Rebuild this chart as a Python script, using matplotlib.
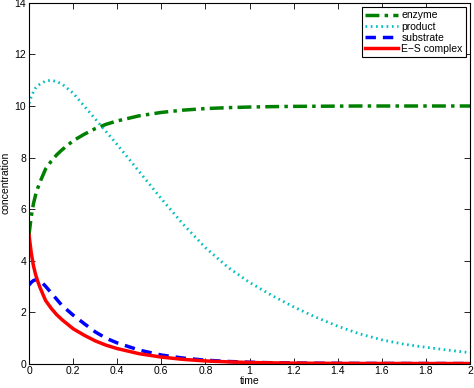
import matplotlib
matplotlib.use("Agg")
from matplotlib import pyplot as plt

plt.rcParams['font.family'] = ['Liberation Sans', 'DejaVu Sans']

# valores
t = [0, 0.01, 0.02, 0.03, 0.04, 0.05, 0.075, 0.1, 0.125, 0.15, 0.2, 0.25, 0.3, 0.35, 0.4,
     0.5, 0.6, 0.7, 0.8, 0.9, 1.0, 1.1, 1.2, 1.3, 1.4, 1.5, 1.6, 1.7, 1.8, 1.9, 2.0]

enzyme = [5.0, 5.7, 6.2, 6.55, 6.82, 7.05, 7.55, 7.85, 8.1, 8.3, 8.65, 8.9, 9.12, 9.29, 9.42,
          9.62, 9.75, 9.84, 9.9, 9.935, 9.96, 9.975, 9.985, 9.99, 9.995, 10.0, 10.0, 10.0, 10.0, 10.0, 10.0]

product = [10.1, 10.35, 10.55, 10.7, 10.78, 10.85, 10.97, 11.0, 10.95, 10.85, 10.5, 10.0, 9.5, 9.0, 8.5,
           7.45, 6.4, 5.4, 4.5, 3.75, 3.15, 2.65, 2.2, 1.8, 1.45, 1.15, 0.92, 0.75, 0.63, 0.52, 0.42]

substrate = [3.05, 3.15, 3.22, 3.25, 3.25, 3.22, 3.0, 2.75, 2.5, 2.25, 1.88, 1.55, 1.23, 0.98, 0.8,
             0.52, 0.33, 0.21, 0.13, 0.08, 0.05, 0.03, 0.02, 0.012, 0.008, 0.005, 0.003, 0.002, 0.001, 0.0, 0.0]

complexo = [5.0, 4.3, 3.8, 3.45, 3.18, 2.95, 2.45, 2.15, 1.9, 1.7, 1.35, 1.1, 0.88, 0.71, 0.58,
            0.38, 0.25, 0.16, 0.1, 0.065, 0.04, 0.025, 0.015, 0.01, 0.005, 0.003, 0.002, 0.001, 0.0, 0.0, 0.0]

fig = plt.figure(figsize=(4.74, 3.88), dpi=100)
ax = fig.add_axes([0.0612, 0.0631, 0.9304, 0.9292])

ax.plot(t, enzyme, color=(0, 0.5, 0), linestyle=(0, (4, 1.5, 1, 1.5)), linewidth=2.5, label="enzyme")
ax.plot(t, product, color=(0, 0.75, 0.75), linestyle=(0, (0.6, 1.3)), linewidth=2, label="product")
ax.plot(t, substrate, color=(0, 0, 1), linestyle=(0, (3, 2)), linewidth=2.5, label="substrate")
ax.plot(t, complexo, color=(1, 0, 0), linestyle="-", linewidth=2.5, label="E\u2212S complex")

ax.set_xlim(0, 2)
ax.set_ylim(0, 14)
ax.set_xticks([0, 0.2, 0.4, 0.6, 0.8, 1, 1.2, 1.4, 1.6, 1.8, 2])
ax.set_xticklabels(["0", "0.2", "0.4", "0.6", "0.8", "1", "1.2", "1.4", "1.6", "1.8", "2"])
ax.set_yticks(range(0, 15, 2))
ax.tick_params(direction="in", top=True, right=True, labelsize=7.5, length=4, width=0.6, pad=2)
for s in ax.spines.values():
    s.set_linewidth(0.8)

ax.set_xlabel("time", fontsize=7.5, labelpad=0)
ax.set_ylabel("concentration", fontsize=7.5, labelpad=3)

leg = ax.legend(loc="upper right", fontsize=7.5, handlelength=3.2, handletextpad=0.3,
                labelspacing=0.12, borderpad=0.3, borderaxespad=0.4, fancybox=False, framealpha=1)
leg.get_frame().set_edgecolor("black")
leg.get_frame().set_linewidth(0.8)

fig.savefig("out.png", dpi=100)
